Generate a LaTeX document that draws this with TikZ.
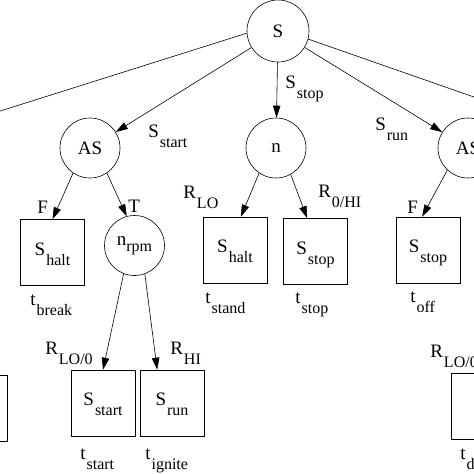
\documentclass[tikz,border=0pt]{standalone}
\usepackage{fontspec}
\setmainfont{Liberation Serif}
\usetikzlibrary{arrows.meta}
\newcommand{\subsz}{\fontsize{16}{18}\selectfont}
\newcommand{\lab}[2]{#1\hspace{1pt}\raisebox{-10pt}{\subsz #2}}

\begin{document}
\begin{tikzpicture}[x=1pt, y=-1pt, line width=0.6pt,
  font=\fontsize{19}{22}\selectfont,
  state/.style={draw, circle, minimum size=60pt, inner sep=0pt},
  leaf/.style={draw, minimum width=64pt, minimum height=66pt, inner sep=0pt,
    text height=13pt, text depth=8pt},
  lbl/.style={anchor=base west, inner sep=0pt},
  edge/.style={-{Triangle[length=12pt, width=7.5pt]}}]
\useasboundingbox (0,0) rectangle (474,474);
\clip (0,0) rectangle (474,474);
% states
\node [state, minimum size=62pt] (S) at (278,31) {S};
\node [state] (ASl) at (90,148) {AS};
\node [state] (n) at (276,148) {n};
\node [state] (ASr) at (468,148) {AS};
\node [state] (nrpm) at (134.5,245.5) {n\raisebox{-6pt}{\subsz rpm}};
\coordinate (farL) at (-60,130);
\coordinate (farR) at (574,132);
% leaves
\node [leaf] (halt1) at (52.5,252.5) {\lab{S}{halt}};
\node [leaf] (halt2) at (235,250) {\lab{S}{halt}};
\node [leaf] (stop1) at (315.5,251.5) {\lab{S}{stop}};
\node [leaf] (stop2) at (428,250) {\lab{S}{stop}};
\node [leaf] (start) at (103,403) {\lab{S}{start}};
\node [leaf] (run) at (172,403) {\lab{S}{run}};
\node [leaf] (boxL) at (-25,408.5) {};
\node [leaf] (boxR) at (483,406.5) {S\hspace{30pt}};
% connectors
\draw [edge] (S.184) -- (farL);
\draw [edge] (S.-15) -- (farR);
\draw [edge] (S) -- (ASl);
\draw [edge] (S) -- (n);
\draw [edge] (S) -- (ASr);
\draw [edge] (ASl.236) -- (halt1.north);
\draw [edge] (ASl.-56) -- (nrpm.105);
\draw [edge] (n.236) -- (halt2.80);
\draw [edge] (n.-61) -- (stop1.104);
\draw [edge] (ASr.227) -- (stop2.100);
\draw [edge] (nrpm.249) -- (start.north);
\draw [edge] (nrpm.-70) -- (run.114);
% labels
\node [lbl] (lSstart) at (148,137) {\lab{S}{start}};
\node [lbl] (lSstop) at (285,88) {\lab{S}{stop}};
\node [lbl] (lSrun) at (375,130) {\lab{S}{run}};
\node [lbl] (lFl) at (37,213) {F};
\node [lbl] (lT) at (128,212) {T};
\node [lbl] (lFr) at (407,213) {F};
\node [lbl] (lRlo) at (183,198) {\lab{R}{LO}};
\node [lbl] (lRhi0) at (318,197) {\lab{R}{0/HI}};
\node [lbl] (lRlo0l) at (45,354) {\lab{R}{LO/0}};
\node [lbl] (lRhi) at (170,354) {\lab{R}{HI}};
\node [lbl] (lRlo0r) at (430,357) {\lab{R}{LO/0}};
\node [lbl] (ltbreak) at (30,305) {\lab{t}{break}};
\node [lbl] (ltstand) at (205,303) {\lab{t}{stand}};
\node [lbl] (ltstop) at (295,303) {\lab{t}{stop}};
\node [lbl] (ltoff) at (410,302) {\lab{t}{off}};
\node [lbl] (ltstart) at (80,459) {\lab{t}{start}};
\node [lbl] (ltignite) at (145,459) {\lab{t}{ignite}};
\node [lbl] (ltd) at (460,459) {\lab{t}{d}};
\end{tikzpicture}
\end{document}
